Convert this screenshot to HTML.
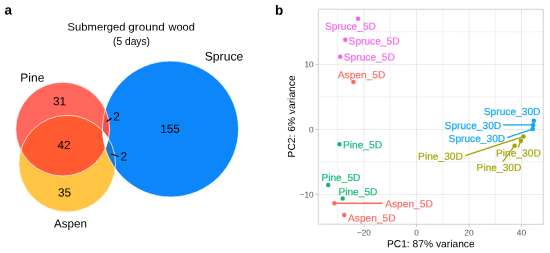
<!DOCTYPE html>
<html><head><meta charset="utf-8">
<style>
html,body{margin:0;padding:0;background:#fff;}
svg{display:block;}
text{font-family:"Liberation Sans",sans-serif;}
.v{font-size:11.8px;fill:#000;}
.n{font-size:12px;fill:#000;}
.t{font-size:10.7px;fill:#000;}
.l{font-size:10.2px;}
.l text{stroke-width:0.15px;}
.l circle{stroke:none;}
.k{font-size:8.3px;fill:#4d4d4d;}
.ax{font-size:10.25px;fill:#000;}
.pl{font-size:13.5px;font-weight:bold;fill:#000;}
</style></head><body>
<svg width="550" height="253" viewBox="0 0 550 253">
<rect width="550" height="253" fill="#fff"/>
<g transform="matrix(1 0.0005 0 1 0 -0.14)">
<defs>
<clipPath id="cA"><circle cx="67.2" cy="163.7" r="48.3"/></clipPath>
<clipPath id="cS"><circle cx="170.5" cy="129.1" r="68"/></clipPath>
<clipPath id="cP"><circle cx="62.7" cy="129.2" r="46.9"/></clipPath>
</defs>
<!-- panel a -->
<text class="pl" x="4.6" y="14.7">a</text>
<text class="t" y="30.6"><tspan x="67.6" textLength="58" lengthAdjust="spacingAndGlyphs">Submerged</tspan> <tspan x="128.3" textLength="36.4" lengthAdjust="spacingAndGlyphs">ground</tspan> <tspan x="168.5" textLength="26.4" lengthAdjust="spacingAndGlyphs">wood</tspan></text>
<text class="t" x="113" y="44.8" textLength="37" lengthAdjust="spacingAndGlyphs">(5 days)</text>
<circle cx="67.2" cy="163.7" r="48.3" fill="#ffc443"/>
<circle cx="170.5" cy="129.1" r="68" fill="#0c86f8"/>
<circle cx="67.2" cy="163.7" r="48.3" fill="#1878cf" clip-path="url(#cS)"/>
<circle cx="62.7" cy="129.2" r="46.9" fill="#ff675c"/>
<circle cx="62.7" cy="129.2" r="46.9" fill="#ff5a30" clip-path="url(#cA)"/>
<circle cx="62.7" cy="129.2" r="46.9" fill="#f2504f" clip-path="url(#cS)"/>
<g clip-path="url(#cS)"><circle cx="62.7" cy="129.2" r="46.9" fill="#fff" clip-path="url(#cA)"/></g>
<g fill="none" stroke="#fff" stroke-width="0.9" stroke-opacity="0.8">
<circle cx="67.2" cy="163.7" r="48.3"/>
<circle cx="170.5" cy="129.1" r="68"/>
<circle cx="62.7" cy="129.2" r="46.9"/>
</g>
<text class="n" x="20.3" y="81.9">Pine</text>
<text class="n" x="204.7" y="60.5" style="font-size:12.2px">Spruce</text>
<text class="n" x="54.1" y="227.5" style="font-size:11.6px">Aspen</text>
<text class="v" x="59.6" y="105.3" text-anchor="middle">31</text>
<text class="v" x="64.1" y="149.1" text-anchor="middle">42</text>
<text class="v" x="64.6" y="196.6" text-anchor="middle">35</text>
<text class="v" x="170" y="132.7" text-anchor="middle">155</text>
<text class="v" x="113.2" y="120.7">2</text>
<text class="v" x="120.4" y="160.6">2</text>
<path d="M106.6 121.6L111.6 118.3M111.2 154.1L118.8 156.6" stroke="#000" stroke-width="1.1" fill="none"/>
<!-- panel b -->
<text class="pl" x="275" y="14.7">b</text>
<g stroke="#efefef" stroke-width="0.8" fill="none">
<path d="M337.6 9.2V224.2M390.2 9.2V224.2M442.7 9.2V224.2M495.2 9.2V224.2"/>
<path d="M318.3 31.7H543.3M318.3 96.7H543.3M318.3 161.7H543.3"/>
</g>
<g stroke="#e9e9e9" stroke-width="0.9" fill="none">
<path d="M363.9 9.2V224.2M416.5 9.2V224.2M469 9.2V224.2M521.5 9.2V224.2"/>
<path d="M318.3 64.4H543.3M318.3 129.4H543.3M318.3 194.4H543.3"/>
</g>
<rect x="318.3" y="9.2" width="225" height="215" fill="none" stroke="#c6c6c6" stroke-width="0.8"/>
<g stroke="#c0c0c0" stroke-width="0.8" fill="none">
<path d="M315.5 64.4H318.3M315.5 129.4H318.3M315.5 194.4H318.3"/>
<path d="M363.9 224.2V227M416.5 224.2V227M469 224.2V227M521.5 224.2V227"/>
</g>
<g class="k" text-anchor="end">
<text x="313.7" y="67.3">10</text>
<text x="313.7" y="132.4">0</text>
<text x="313.7" y="197.4">−10</text>
</g>
<g class="k" text-anchor="middle">
<text x="363.9" y="235.5">−20</text>
<text x="416.5" y="235.5">0</text>
<text x="469" y="235.5">20</text>
<text x="521.5" y="235.5">40</text>
</g>
<text class="ax" x="430.8" y="247.1" text-anchor="middle">PC1: 87% variance</text>
<text class="ax" transform="translate(294.6 116.4) rotate(-90)" text-anchor="middle">PC2: 6% variance</text>
<!-- Spruce_5D -->
<g fill="#f763ea" stroke="#f763ea" class="l">
<circle cx="358" cy="18.6" r="2.25"/><circle cx="345.3" cy="39.8" r="2.25"/><circle cx="340.2" cy="56.6" r="2.25"/>
<text x="325" y="29.7">Spruce_5D</text>
<text x="348.6" y="44.4">Spruce_5D</text>
<text x="343.8" y="60.5">Spruce_5D</text>
</g>
<!-- Aspen_5D -->
<g fill="#fc6a60" stroke="#fc6a60" class="l">
<circle cx="353.4" cy="81.9" r="2.25"/><circle cx="334.4" cy="203.1" r="2.25"/><circle cx="344.2" cy="215" r="2.25"/>
<text x="337.8" y="78.3">Aspen_5D</text>
<text x="385.2" y="207.3">Aspen_5D</text>
<text x="348" y="221.5">Aspen_5D</text>
<path d="M334.4 203.3H382.6" stroke="#fc6a60" stroke-width="1.5" fill="none"/>
</g>
<!-- Pine_5D -->
<g fill="#0bbb76" stroke="#0bbb76" class="l">
<circle cx="339.5" cy="144.2" r="2.25"/><circle cx="328.2" cy="184.9" r="2.25"/><circle cx="342.7" cy="198.5" r="2.25"/>
<text x="343" y="148.3">Pine_5D</text>
<text x="321.4" y="181.0">Pine_5D</text>
<text x="338.4" y="195.3">Pine_5D</text>
</g>
<!-- Spruce_30D -->
<g fill="#0aa8f8" stroke="#0aa8f8" class="l">
<circle cx="533.8" cy="120.6" r="2.25"/><circle cx="533.2" cy="124.8" r="2.25"/><circle cx="532.7" cy="128.9" r="2.25"/>
<text x="483.8" y="114.9">Spruce_30D</text>
<text x="444.6" y="128.8">Spruce_30D</text>
<text x="448.6" y="141.9">Spruce_30D</text>
<path d="M533.8 120.6L533.2 124.8M503.2 124.8H533.2M507.3 137.4L532.7 128.9" stroke="#0aa8f8" stroke-width="1.3" fill="none"/>
</g>
<!-- Pine_30D -->
<g fill="#a3a500" stroke="#a3a500" class="l">
<circle cx="523.5" cy="136.4" r="2.25"/><circle cx="520.9" cy="140.7" r="2.25"/><circle cx="514.6" cy="145.6" r="2.25"/>
<text x="418.1" y="159.6">Pine_30D</text>
<text x="496" y="156.3">Pine_30D</text>
<text x="476.6" y="170.9">Pine_30D</text>
<path d="M465.3 155.5L523.5 136.4M520.9 140.7L518.2 147.3M514.6 145.6L502.9 161.6" stroke="#a3a500" stroke-width="1.3" fill="none"/>
</g>
</g>
</svg>
</body></html>
